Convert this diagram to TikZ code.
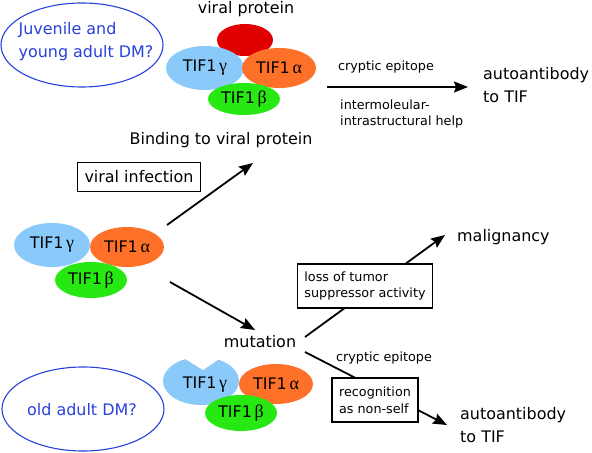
\documentclass[tikz,border=0pt]{standalone}
\usepackage{fontspec}
\setmainfont{DejaVu Sans}
\newfontfamily\grk{Liberation Serif}
\newcommand\gk[1]{\,{\grk\fontsize{18}{18}\selectfont #1}}
\usepackage{tikz}
\usetikzlibrary{shapes.geometric,arrows.meta,positioning}
\definecolor{tifblue}{RGB}{138, 202, 250}
\definecolor{tiforange}{RGB}{255, 112, 40}
\definecolor{tifgreen}{RGB}{40, 232, 20}
\definecolor{virred}{RGB}{225, 0, 0}
\definecolor{dmblue}{RGB}{40, 64, 220}

\begin{document}
\begin{tikzpicture}[x=1bp, y=-1bp,
        big/.style={inner sep=0pt, font=\fontsize{16}{23}\selectfont},
        small/.style={inner sep=0pt, font=\fontsize{12.8}{16}\selectfont},
        tif/.style={ellipse, inner sep=0pt, font=\fontsize{16}{18}\selectfont},
        dmring/.style={ellipse, draw=dmblue, line width=1.1bp, minimum width=162bp, minimum height=84bp},
        dmtext/.style={big, text=dmblue, align=left},
        boxlab/.style={rectangle, draw, line width=1.6bp, fill=white, align=left, inner xsep=7bp, font=\fontsize{12.8}{17}\selectfont},
        arrow/.style={-{Stealth[length=14bp, width=11bp, inset=2bp]}, line width=1.8bp}
    ]
        \useasboundingbox (0,0) rectangle (592,453);
        \node[dmring] (juv) at (82,45) {};
        \node[dmtext] (juvtext) at (86,42) {Juvenile and\\young adult DM?};
        \node[dmring] (old) at (83,409) {};
        \node[dmtext] (oldtext) at (82,410) {old adult DM?};

        \node[tif, fill=virred, minimum width=56bp, minimum height=32bp] (vp) at (245,40) {};
        \node[tif, fill=tifblue, minimum width=78bp, minimum height=44bp] (gam1) at (205,68) {TIF1\gk{γ}};
        \node[tif, fill=tiforange, minimum width=74bp, minimum height=40bp] (alp1) at (279,68) {TIF1\gk{α}};
        \node[tif, fill=tifgreen, minimum width=72bp, minimum height=32bp] (bet1) at (244,99) {TIF1\gk{β}};
        \node[big] (vplab) at (246,9) {viral protein};
        \node[big] (bind) at (221,140) {Binding to viral protein};

        \node[tif, fill=tifblue, minimum width=76bp, minimum height=44bp] (gam2) at (52,245) {TIF1\gk{γ}};
        \node[tif, fill=tiforange, minimum width=74bp, minimum height=40bp] (alp2) at (127,247) {TIF1\gk{α}};
        \node[tif, fill=tifgreen, minimum width=72bp, minimum height=36bp] (bet2) at (91,280) {TIF1\gk{β}};

        \node[tif, fill=tifblue, minimum width=76bp, minimum height=48bp] (gam3) at (201,381) {};
        \fill[white] (170,349.6) -- (203,370) -- (230,351.5) -- (230,340) -- (170,340) -- cycle;
        \node[inner sep=0pt, font=\fontsize{16}{18}\selectfont] (gam3text) at (205,385) {TIF1\gk{γ}};
        \node[tif, fill=tiforange, minimum width=74bp, minimum height=40bp] (alp3) at (276,384) {TIF1\gk{α}};
        \node[tif, fill=tifgreen, minimum width=72bp, minimum height=36bp] (bet3) at (241,413) {TIF1\gk{β}};
        \node[big] (mut) at (260,342) {mutation};

        \coordinate (infS) at (167,225);
        \coordinate (infE) at (253,163);
        \coordinate (mutS) at (170,282);
        \coordinate (mutE) at (255,330);
        \coordinate (topS) at (327,87);
        \coordinate (topE) at (468,87);
        \coordinate (malS) at (305,337);
        \coordinate (malE) at (445,235);
        \coordinate (recS) at (305,352);
        \coordinate (recE) at (447,425);
        \draw[arrow] (infS) -- (infE);
        \draw[arrow] (mutS) -- (mutE);
        \draw[arrow] (topS) -- (topE);
        \draw[arrow] (malS) -- (malE);
        \draw[arrow] (recS) -- (recE);

        \node[boxlab, font=\fontsize{16}{23}\selectfont, minimum height=29bp] (vinf) at (139,177) {viral infection};
        \node[boxlab, minimum height=44bp] (loss) at (365,286) {loss of tumor\\suppressor activity};
        \node[boxlab, minimum height=44bp] (recog) at (375,400) {recognition\\as non-self};

        \node[small] (crypt1) at (386,67) {cryptic epitope};
        \node[small, align=left, anchor=north west] (help) at (340,100) {intermoleular-\\intrastructural help};
        \node[big, align=left, anchor=north west] (ab1) at (483,67) {autoantibody\\to TIF};
        \node[big, anchor=west] (malig) at (457,237) {malignancy};
        \node[small] (crypt2) at (384,358) {cryptic epitope};
        \node[big, align=left, anchor=north west] (ab2) at (460,407) {autoantibody\\to TIF};
    \end{tikzpicture}
\end{document}
